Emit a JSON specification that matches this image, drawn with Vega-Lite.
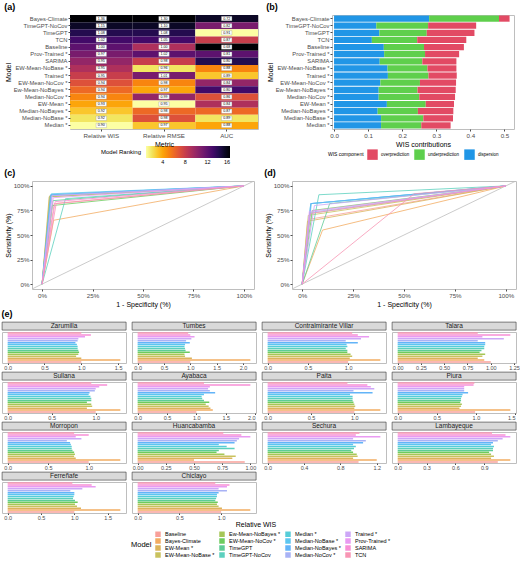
{
  "$schema": "https://vega.github.io/schema/vega-lite/v6.json",
  "padding": {"left": 1, "top": 2, "right": 2, "bottom": 0},
  "config": {
    "font": "Liberation Sans",
    "view": {"stroke": "#BEBEBE"},
    "axis": {"labelFontSize": 6.2, "labelColor": "#4D4D4D", "titleFontSize": 7, "titleFontWeight": "normal", "titleColor": "#000000", "tickColor": "#4D4D4D", "tickSize": 2, "domain": false, "grid": false, "labelPadding": 1, "titlePadding": 2},
    "title": {"fontSize": 9, "fontWeight": "bold", "anchor": "start", "frame": "bounds", "offset": 3},
    "legend": {"titleFontWeight": "normal", "titleColor": "#000000", "labelColor": "#000000", "layout": {"bottom": {"anchor": "middle"}}}
  },
  "datasets": {
    "heat": [
      {"model": "Bayes-Climate", "metric": "Relative WIS", "value": 1.36, "rank": 16},
      {"model": "Bayes-Climate", "metric": "Relative RMSE", "value": 1.30, "rank": 16},
      {"model": "Bayes-Climate", "metric": "AUC", "value": 0.72, "rank": 15},
      {"model": "TimeGPT-NoCov", "metric": "Relative WIS", "value": 1.15, "rank": 15},
      {"model": "TimeGPT-NoCov", "metric": "Relative RMSE", "value": 1.10, "rank": 15},
      {"model": "TimeGPT-NoCov", "metric": "AUC", "value": 0.82, "rank": 11},
      {"model": "TimeGPT", "metric": "Relative WIS", "value": 1.08, "rank": 14},
      {"model": "TimeGPT", "metric": "Relative RMSE", "value": 1.08, "rank": 14},
      {"model": "TimeGPT", "metric": "AUC", "value": 0.91, "rank": 1},
      {"model": "TCN", "metric": "Relative WIS", "value": 1.02, "rank": 13},
      {"model": "TCN", "metric": "Relative RMSE", "value": 1.05, "rank": 13},
      {"model": "TCN", "metric": "AUC", "value": 0.87, "rank": 8},
      {"model": "Baseline", "metric": "Relative WIS", "value": 1.00, "rank": 12},
      {"model": "Baseline", "metric": "Relative RMSE", "value": 1.00, "rank": 9},
      {"model": "Baseline", "metric": "AUC", "value": 0.68, "rank": 16},
      {"model": "Prov-Trained *", "metric": "Relative WIS", "value": 0.97, "rank": 11},
      {"model": "Prov-Trained *", "metric": "Relative RMSE", "value": 1.02, "rank": 12},
      {"model": "Prov-Trained *", "metric": "AUC", "value": 0.81, "rank": 12},
      {"model": "SARIMA", "metric": "Relative WIS", "value": 0.95, "rank": 10},
      {"model": "SARIMA", "metric": "Relative RMSE", "value": 0.98, "rank": 8},
      {"model": "SARIMA", "metric": "AUC", "value": 0.80, "rank": 14},
      {"model": "EW-Mean-NoBase *", "metric": "Relative WIS", "value": 0.95, "rank": 9},
      {"model": "EW-Mean-NoBase *", "metric": "Relative RMSE", "value": 0.96, "rank": 2},
      {"model": "EW-Mean-NoBase *", "metric": "AUC", "value": 0.88, "rank": 5},
      {"model": "Trained *", "metric": "Relative WIS", "value": 0.95, "rank": 8},
      {"model": "Trained *", "metric": "Relative RMSE", "value": 1.01, "rank": 11},
      {"model": "Trained *", "metric": "AUC", "value": 0.89, "rank": 3},
      {"model": "EW-Mean-NoCov *", "metric": "Relative WIS", "value": 0.94, "rank": 7},
      {"model": "EW-Mean-NoCov *", "metric": "Relative RMSE", "value": 0.98, "rank": 5},
      {"model": "EW-Mean-NoCov *", "metric": "AUC", "value": 0.84, "rank": 10},
      {"model": "Ew-Mean-NoBayes *", "metric": "Relative WIS", "value": 0.94, "rank": 6},
      {"model": "Ew-Mean-NoBayes *", "metric": "Relative RMSE", "value": 0.97, "rank": 4},
      {"model": "Ew-Mean-NoBayes *", "metric": "AUC", "value": 0.80, "rank": 13},
      {"model": "Median-NoCov *", "metric": "Relative WIS", "value": 0.94, "rank": 5},
      {"model": "Median-NoCov *", "metric": "Relative RMSE", "value": 0.99, "rank": 10},
      {"model": "Median-NoCov *", "metric": "AUC", "value": 0.86, "rank": 7},
      {"model": "EW-Mean *", "metric": "Relative WIS", "value": 0.93, "rank": 4},
      {"model": "EW-Mean *", "metric": "Relative RMSE", "value": 0.95, "rank": 1},
      {"model": "EW-Mean *", "metric": "AUC", "value": 0.84, "rank": 9},
      {"model": "Median-NoBayes *", "metric": "Relative WIS", "value": 0.92, "rank": 3},
      {"model": "Median-NoBayes *", "metric": "Relative RMSE", "value": 0.98, "rank": 6},
      {"model": "Median-NoBayes *", "metric": "AUC", "value": 0.87, "rank": 6},
      {"model": "Median-NoBase *", "metric": "Relative WIS", "value": 0.92, "rank": 2},
      {"model": "Median-NoBase *", "metric": "Relative RMSE", "value": 0.98, "rank": 7},
      {"model": "Median-NoBase *", "metric": "AUC", "value": 0.89, "rank": 2},
      {"model": "Median *", "metric": "Relative WIS", "value": 0.90, "rank": 1},
      {"model": "Median *", "metric": "Relative RMSE", "value": 0.97, "rank": 3},
      {"model": "Median *", "metric": "AUC", "value": 0.88, "rank": 4}
    ],
    "wisc": [
      {"model": "Bayes-Climate", "component": "dispersion", "value": 0.279},
      {"model": "Bayes-Climate", "component": "underprediction", "value": 0.205},
      {"model": "Bayes-Climate", "component": "overprediction", "value": 0.031},
      {"model": "TimeGPT-NoCov", "component": "dispersion", "value": 0.124},
      {"model": "TimeGPT-NoCov", "component": "underprediction", "value": 0.152},
      {"model": "TimeGPT-NoCov", "component": "overprediction", "value": 0.141},
      {"model": "TimeGPT", "component": "dispersion", "value": 0.133},
      {"model": "TimeGPT", "component": "underprediction", "value": 0.139},
      {"model": "TimeGPT", "component": "overprediction", "value": 0.140},
      {"model": "TCN", "component": "dispersion", "value": 0.111},
      {"model": "TCN", "component": "underprediction", "value": 0.133},
      {"model": "TCN", "component": "overprediction", "value": 0.144},
      {"model": "Baseline", "component": "dispersion", "value": 0.146},
      {"model": "Baseline", "component": "underprediction", "value": 0.118},
      {"model": "Baseline", "component": "overprediction", "value": 0.117},
      {"model": "Prov-Trained *", "component": "dispersion", "value": 0.147},
      {"model": "Prov-Trained *", "component": "underprediction", "value": 0.120},
      {"model": "Prov-Trained *", "component": "overprediction", "value": 0.100},
      {"model": "SARIMA", "component": "dispersion", "value": 0.134},
      {"model": "SARIMA", "component": "underprediction", "value": 0.125},
      {"model": "SARIMA", "component": "overprediction", "value": 0.100},
      {"model": "EW-Mean-NoBase *", "component": "dispersion", "value": 0.157},
      {"model": "EW-Mean-NoBase *", "component": "underprediction", "value": 0.117},
      {"model": "EW-Mean-NoBase *", "component": "overprediction", "value": 0.085},
      {"model": "Trained *", "component": "dispersion", "value": 0.158},
      {"model": "Trained *", "component": "underprediction", "value": 0.119},
      {"model": "Trained *", "component": "overprediction", "value": 0.083},
      {"model": "EW-Mean-NoCov *", "component": "dispersion", "value": 0.136},
      {"model": "EW-Mean-NoCov *", "component": "underprediction", "value": 0.116},
      {"model": "EW-Mean-NoCov *", "component": "overprediction", "value": 0.106},
      {"model": "Ew-Mean-NoBayes *", "component": "dispersion", "value": 0.131},
      {"model": "Ew-Mean-NoBayes *", "component": "underprediction", "value": 0.114},
      {"model": "Ew-Mean-NoBayes *", "component": "overprediction", "value": 0.112},
      {"model": "Median-NoCov *", "component": "dispersion", "value": 0.131},
      {"model": "Median-NoCov *", "component": "underprediction", "value": 0.119},
      {"model": "Median-NoCov *", "component": "overprediction", "value": 0.105},
      {"model": "EW-Mean *", "component": "dispersion", "value": 0.155},
      {"model": "EW-Mean *", "component": "underprediction", "value": 0.114},
      {"model": "EW-Mean *", "component": "overprediction", "value": 0.083},
      {"model": "Median-NoBayes *", "component": "dispersion", "value": 0.128},
      {"model": "Median-NoBayes *", "component": "underprediction", "value": 0.118},
      {"model": "Median-NoBayes *", "component": "overprediction", "value": 0.104},
      {"model": "Median-NoBase *", "component": "dispersion", "value": 0.138},
      {"model": "Median-NoBase *", "component": "underprediction", "value": 0.124},
      {"model": "Median-NoBase *", "component": "overprediction", "value": 0.087},
      {"model": "Median *", "component": "dispersion", "value": 0.138},
      {"model": "Median *", "component": "underprediction", "value": 0.118},
      {"model": "Median *", "component": "overprediction", "value": 0.086}
    ],
    "diag": [{"fpr": -5, "tpr": -5}, {"fpr": 105, "tpr": 105}],
    "roc": [
      {"p": "c", "model": "Baseline", "fpr": 0, "tpr": 0}, {"p": "c", "model": "Baseline", "fpr": 6, "tpr": 82}, {"p": "c", "model": "Baseline", "fpr": 100, "tpr": 100},
      {"p": "c", "model": "Bayes-Climate", "fpr": 0, "tpr": 0}, {"p": "c", "model": "Bayes-Climate", "fpr": 5.7, "tpr": 65}, {"p": "c", "model": "Bayes-Climate", "fpr": 100, "tpr": 100},
      {"p": "c", "model": "EW-Mean *", "fpr": 0, "tpr": 0}, {"p": "c", "model": "EW-Mean *", "fpr": 3.5, "tpr": 89}, {"p": "c", "model": "EW-Mean *", "fpr": 100, "tpr": 100},
      {"p": "c", "model": "EW-Mean-NoBase *", "fpr": 0, "tpr": 0}, {"p": "c", "model": "EW-Mean-NoBase *", "fpr": 3.8, "tpr": 90}, {"p": "c", "model": "EW-Mean-NoBase *", "fpr": 100, "tpr": 100},
      {"p": "c", "model": "Ew-Mean-NoBayes *", "fpr": 0, "tpr": 0}, {"p": "c", "model": "Ew-Mean-NoBayes *", "fpr": 4, "tpr": 89}, {"p": "c", "model": "Ew-Mean-NoBayes *", "fpr": 100, "tpr": 100},
      {"p": "c", "model": "EW-Mean-NoCov *", "fpr": 0, "tpr": 0}, {"p": "c", "model": "EW-Mean-NoCov *", "fpr": 5, "tpr": 80}, {"p": "c", "model": "EW-Mean-NoCov *", "fpr": 100, "tpr": 100},
      {"p": "c", "model": "TimeGPT", "fpr": 0, "tpr": 0}, {"p": "c", "model": "TimeGPT", "fpr": 5.4, "tpr": 85}, {"p": "c", "model": "TimeGPT", "fpr": 100, "tpr": 100},
      {"p": "c", "model": "TimeGPT-NoCov", "fpr": 0, "tpr": 0}, {"p": "c", "model": "TimeGPT-NoCov", "fpr": 11.6, "tpr": 87}, {"p": "c", "model": "TimeGPT-NoCov", "fpr": 100, "tpr": 100},
      {"p": "c", "model": "Median *", "fpr": 0, "tpr": 0}, {"p": "c", "model": "Median *", "fpr": 4.5, "tpr": 91}, {"p": "c", "model": "Median *", "fpr": 100, "tpr": 100},
      {"p": "c", "model": "Median-NoBase *", "fpr": 0, "tpr": 0}, {"p": "c", "model": "Median-NoBase *", "fpr": 4.6, "tpr": 92}, {"p": "c", "model": "Median-NoBase *", "fpr": 100, "tpr": 100},
      {"p": "c", "model": "Median-NoBayes *", "fpr": 0, "tpr": 0}, {"p": "c", "model": "Median-NoBayes *", "fpr": 4.2, "tpr": 91}, {"p": "c", "model": "Median-NoBayes *", "fpr": 100, "tpr": 100},
      {"p": "c", "model": "Median-NoCov *", "fpr": 0, "tpr": 0}, {"p": "c", "model": "Median-NoCov *", "fpr": 4.8, "tpr": 90}, {"p": "c", "model": "Median-NoCov *", "fpr": 100, "tpr": 100},
      {"p": "c", "model": "Trained *", "fpr": 0, "tpr": 0}, {"p": "c", "model": "Trained *", "fpr": 5, "tpr": 90}, {"p": "c", "model": "Trained *", "fpr": 100, "tpr": 100},
      {"p": "c", "model": "Prov-Trained *", "fpr": 0, "tpr": 0}, {"p": "c", "model": "Prov-Trained *", "fpr": 5.5, "tpr": 88}, {"p": "c", "model": "Prov-Trained *", "fpr": 100, "tpr": 100},
      {"p": "c", "model": "SARIMA", "fpr": 0, "tpr": 0}, {"p": "c", "model": "SARIMA", "fpr": 6.5, "tpr": 84}, {"p": "c", "model": "SARIMA", "fpr": 100, "tpr": 100},
      {"p": "c", "model": "TCN", "fpr": 0, "tpr": 0}, {"p": "c", "model": "TCN", "fpr": 7, "tpr": 82}, {"p": "c", "model": "TCN", "fpr": 100, "tpr": 100},
      {"p": "d", "model": "Baseline", "fpr": 0, "tpr": 0}, {"p": "d", "model": "Baseline", "fpr": 3.5, "tpr": 66}, {"p": "d", "model": "Baseline", "fpr": 100, "tpr": 100},
      {"p": "d", "model": "Bayes-Climate", "fpr": 0, "tpr": 0}, {"p": "d", "model": "Bayes-Climate", "fpr": 10, "tpr": 55}, {"p": "d", "model": "Bayes-Climate", "fpr": 100, "tpr": 100},
      {"p": "d", "model": "EW-Mean *", "fpr": 0, "tpr": 0}, {"p": "d", "model": "EW-Mean *", "fpr": 2.6, "tpr": 64}, {"p": "d", "model": "EW-Mean *", "fpr": 100, "tpr": 100},
      {"p": "d", "model": "EW-Mean-NoBase *", "fpr": 0, "tpr": 0}, {"p": "d", "model": "EW-Mean-NoBase *", "fpr": 3, "tpr": 70}, {"p": "d", "model": "EW-Mean-NoBase *", "fpr": 100, "tpr": 100},
      {"p": "d", "model": "Ew-Mean-NoBayes *", "fpr": 0, "tpr": 0}, {"p": "d", "model": "Ew-Mean-NoBayes *", "fpr": 4, "tpr": 72}, {"p": "d", "model": "Ew-Mean-NoBayes *", "fpr": 100, "tpr": 100},
      {"p": "d", "model": "EW-Mean-NoCov *", "fpr": 0, "tpr": 0}, {"p": "d", "model": "EW-Mean-NoCov *", "fpr": 5, "tpr": 75}, {"p": "d", "model": "EW-Mean-NoCov *", "fpr": 100, "tpr": 100},
      {"p": "d", "model": "TimeGPT", "fpr": 0, "tpr": 0}, {"p": "d", "model": "TimeGPT", "fpr": 13.5, "tpr": 82}, {"p": "d", "model": "TimeGPT", "fpr": 100, "tpr": 100},
      {"p": "d", "model": "TimeGPT-NoCov", "fpr": 0, "tpr": 0}, {"p": "d", "model": "TimeGPT-NoCov", "fpr": 8.2, "tpr": 91}, {"p": "d", "model": "TimeGPT-NoCov", "fpr": 100, "tpr": 100},
      {"p": "d", "model": "Median *", "fpr": 0, "tpr": 0}, {"p": "d", "model": "Median *", "fpr": 4.2, "tpr": 82}, {"p": "d", "model": "Median *", "fpr": 100, "tpr": 100},
      {"p": "d", "model": "Median-NoBase *", "fpr": 0, "tpr": 0}, {"p": "d", "model": "Median-NoBase *", "fpr": 4.5, "tpr": 82}, {"p": "d", "model": "Median-NoBase *", "fpr": 100, "tpr": 100},
      {"p": "d", "model": "Median-NoBayes *", "fpr": 0, "tpr": 0}, {"p": "d", "model": "Median-NoBayes *", "fpr": 4.2, "tpr": 82}, {"p": "d", "model": "Median-NoBayes *", "fpr": 100, "tpr": 100},
      {"p": "d", "model": "Median-NoCov *", "fpr": 0, "tpr": 0}, {"p": "d", "model": "Median-NoCov *", "fpr": 3.8, "tpr": 73}, {"p": "d", "model": "Median-NoCov *", "fpr": 100, "tpr": 100},
      {"p": "d", "model": "Trained *", "fpr": 0, "tpr": 0}, {"p": "d", "model": "Trained *", "fpr": 6, "tpr": 80}, {"p": "d", "model": "Trained *", "fpr": 100, "tpr": 100},
      {"p": "d", "model": "Prov-Trained *", "fpr": 0, "tpr": 0}, {"p": "d", "model": "Prov-Trained *", "fpr": 3.5, "tpr": 74}, {"p": "d", "model": "Prov-Trained *", "fpr": 100, "tpr": 100},
      {"p": "d", "model": "SARIMA", "fpr": 0, "tpr": 0}, {"p": "d", "model": "SARIMA", "fpr": 4, "tpr": 72}, {"p": "d", "model": "SARIMA", "fpr": 100, "tpr": 100},
      {"p": "d", "model": "TCN", "fpr": 0, "tpr": 0}, {"p": "d", "model": "TCN", "fpr": 55, "tpr": 92}, {"p": "d", "model": "TCN", "fpr": 100, "tpr": 100}
    ],
    "wis": [
      {"site": "Zarumilla", "model": "Baseline", "wis": 1.00}, {"site": "Zarumilla", "model": "Bayes-Climate", "wis": 1.53}, {"site": "Zarumilla", "model": "EW-Mean *", "wis": 1.00}, {"site": "Zarumilla", "model": "EW-Mean-NoBase *", "wis": 0.93}, {"site": "Zarumilla", "model": "Ew-Mean-NoBayes *", "wis": 0.96}, {"site": "Zarumilla", "model": "EW-Mean-NoCov *", "wis": 0.97}, {"site": "Zarumilla", "model": "TimeGPT", "wis": 0.96}, {"site": "Zarumilla", "model": "TimeGPT-NoCov", "wis": 0.95}, {"site": "Zarumilla", "model": "Median *", "wis": 0.95}, {"site": "Zarumilla", "model": "Median-NoBase *", "wis": 0.94}, {"site": "Zarumilla", "model": "Median-NoBayes *", "wis": 0.92}, {"site": "Zarumilla", "model": "Median-NoCov *", "wis": 0.95}, {"site": "Zarumilla", "model": "Trained *", "wis": 0.96}, {"site": "Zarumilla", "model": "Prov-Trained *", "wis": 1.05}, {"site": "Zarumilla", "model": "SARIMA", "wis": 1.13}, {"site": "Zarumilla", "model": "TCN", "wis": 1.00},
      {"site": "Tumbes", "model": "Baseline", "wis": 1.00}, {"site": "Tumbes", "model": "Bayes-Climate", "wis": 2.14}, {"site": "Tumbes", "model": "EW-Mean *", "wis": 1.03}, {"site": "Tumbes", "model": "EW-Mean-NoBase *", "wis": 0.90}, {"site": "Tumbes", "model": "Ew-Mean-NoBayes *", "wis": 0.89}, {"site": "Tumbes", "model": "EW-Mean-NoCov *", "wis": 0.99}, {"site": "Tumbes", "model": "TimeGPT", "wis": 0.91}, {"site": "Tumbes", "model": "TimeGPT-NoCov", "wis": 0.90}, {"site": "Tumbes", "model": "Median *", "wis": 0.89}, {"site": "Tumbes", "model": "Median-NoBase *", "wis": 0.90}, {"site": "Tumbes", "model": "Median-NoBayes *", "wis": 0.99}, {"site": "Tumbes", "model": "Median-NoCov *", "wis": 0.92}, {"site": "Tumbes", "model": "Trained *", "wis": 1.02}, {"site": "Tumbes", "model": "Prov-Trained *", "wis": 1.08}, {"site": "Tumbes", "model": "SARIMA", "wis": 1.00}, {"site": "Tumbes", "model": "TCN", "wis": 0.96},
      {"site": "Contralmirante Villar", "model": "Baseline", "wis": 1.00}, {"site": "Contralmirante Villar", "model": "Bayes-Climate", "wis": 1.40}, {"site": "Contralmirante Villar", "model": "EW-Mean *", "wis": 1.02}, {"site": "Contralmirante Villar", "model": "EW-Mean-NoBase *", "wis": 1.05}, {"site": "Contralmirante Villar", "model": "Ew-Mean-NoBayes *", "wis": 1.03}, {"site": "Contralmirante Villar", "model": "EW-Mean-NoCov *", "wis": 0.99}, {"site": "Contralmirante Villar", "model": "TimeGPT", "wis": 0.99}, {"site": "Contralmirante Villar", "model": "TimeGPT-NoCov", "wis": 0.97}, {"site": "Contralmirante Villar", "model": "Median *", "wis": 0.99}, {"site": "Contralmirante Villar", "model": "Median-NoBase *", "wis": 0.98}, {"site": "Contralmirante Villar", "model": "Median-NoBayes *", "wis": 1.12}, {"site": "Contralmirante Villar", "model": "Median-NoCov *", "wis": 0.97}, {"site": "Contralmirante Villar", "model": "Trained *", "wis": 1.16}, {"site": "Contralmirante Villar", "model": "Prov-Trained *", "wis": 1.26}, {"site": "Contralmirante Villar", "model": "SARIMA", "wis": 1.12}, {"site": "Contralmirante Villar", "model": "TCN", "wis": 1.05},
      {"site": "Talara", "model": "Baseline", "wis": 1.00}, {"site": "Talara", "model": "Bayes-Climate", "wis": 0.93}, {"site": "Talara", "model": "EW-Mean *", "wis": 0.86}, {"site": "Talara", "model": "EW-Mean-NoBase *", "wis": 0.91}, {"site": "Talara", "model": "Ew-Mean-NoBayes *", "wis": 0.94}, {"site": "Talara", "model": "EW-Mean-NoCov *", "wis": 0.88}, {"site": "Talara", "model": "TimeGPT", "wis": 0.90}, {"site": "Talara", "model": "TimeGPT-NoCov", "wis": 0.93}, {"site": "Talara", "model": "Median *", "wis": 0.93}, {"site": "Talara", "model": "Median-NoBase *", "wis": 0.94}, {"site": "Talara", "model": "Median-NoBayes *", "wis": 0.94}, {"site": "Talara", "model": "Median-NoCov *", "wis": 0.86}, {"site": "Talara", "model": "Trained *", "wis": 1.14}, {"site": "Talara", "model": "Prov-Trained *", "wis": 0.91}, {"site": "Talara", "model": "SARIMA", "wis": 1.21}, {"site": "Talara", "model": "TCN", "wis": 0.86},
      {"site": "Sullana", "model": "Baseline", "wis": 1.00}, {"site": "Sullana", "model": "Bayes-Climate", "wis": 1.28}, {"site": "Sullana", "model": "EW-Mean *", "wis": 0.90}, {"site": "Sullana", "model": "EW-Mean-NoBase *", "wis": 0.96}, {"site": "Sullana", "model": "Ew-Mean-NoBayes *", "wis": 0.95}, {"site": "Sullana", "model": "EW-Mean-NoCov *", "wis": 0.90}, {"site": "Sullana", "model": "TimeGPT", "wis": 0.95}, {"site": "Sullana", "model": "TimeGPT-NoCov", "wis": 0.95}, {"site": "Sullana", "model": "Median *", "wis": 0.94}, {"site": "Sullana", "model": "Median-NoBase *", "wis": 0.92}, {"site": "Sullana", "model": "Median-NoBayes *", "wis": 0.93}, {"site": "Sullana", "model": "Median-NoCov *", "wis": 0.99}, {"site": "Sullana", "model": "Trained *", "wis": 1.00}, {"site": "Sullana", "model": "Prov-Trained *", "wis": 1.04}, {"site": "Sullana", "model": "SARIMA", "wis": 1.13}, {"site": "Sullana", "model": "TCN", "wis": 0.95},
      {"site": "Ayabaca", "model": "Baseline", "wis": 1.00}, {"site": "Ayabaca", "model": "Bayes-Climate", "wis": 1.28}, {"site": "Ayabaca", "model": "EW-Mean *", "wis": 1.24}, {"site": "Ayabaca", "model": "EW-Mean-NoBase *", "wis": 1.21}, {"site": "Ayabaca", "model": "Ew-Mean-NoBayes *", "wis": 1.16}, {"site": "Ayabaca", "model": "EW-Mean-NoCov *", "wis": 1.22}, {"site": "Ayabaca", "model": "TimeGPT", "wis": 1.13}, {"site": "Ayabaca", "model": "TimeGPT-NoCov", "wis": 1.10}, {"site": "Ayabaca", "model": "Median *", "wis": 1.09}, {"site": "Ayabaca", "model": "Median-NoBase *", "wis": 1.13}, {"site": "Ayabaca", "model": "Median-NoBayes *", "wis": 1.32}, {"site": "Ayabaca", "model": "Median-NoCov *", "wis": 1.23}, {"site": "Ayabaca", "model": "Trained *", "wis": 1.20}, {"site": "Ayabaca", "model": "Prov-Trained *", "wis": 1.23}, {"site": "Ayabaca", "model": "SARIMA", "wis": 1.92}, {"site": "Ayabaca", "model": "TCN", "wis": 1.13},
      {"site": "Paita", "model": "Baseline", "wis": 1.00}, {"site": "Paita", "model": "Bayes-Climate", "wis": 1.30}, {"site": "Paita", "model": "EW-Mean *", "wis": 1.00}, {"site": "Paita", "model": "EW-Mean-NoBase *", "wis": 1.01}, {"site": "Paita", "model": "Ew-Mean-NoBayes *", "wis": 1.00}, {"site": "Paita", "model": "EW-Mean-NoCov *", "wis": 0.99}, {"site": "Paita", "model": "TimeGPT", "wis": 0.98}, {"site": "Paita", "model": "TimeGPT-NoCov", "wis": 0.98}, {"site": "Paita", "model": "Median *", "wis": 0.98}, {"site": "Paita", "model": "Median-NoBase *", "wis": 0.95}, {"site": "Paita", "model": "Median-NoBayes *", "wis": 1.21}, {"site": "Paita", "model": "Median-NoCov *", "wis": 0.99}, {"site": "Paita", "model": "Trained *", "wis": 1.23}, {"site": "Paita", "model": "Prov-Trained *", "wis": 1.19}, {"site": "Paita", "model": "SARIMA", "wis": 1.15}, {"site": "Paita", "model": "TCN", "wis": 0.92},
      {"site": "Piura", "model": "Baseline", "wis": 0.99}, {"site": "Piura", "model": "Bayes-Climate", "wis": 1.44}, {"site": "Piura", "model": "EW-Mean *", "wis": 0.79}, {"site": "Piura", "model": "EW-Mean-NoBase *", "wis": 0.81}, {"site": "Piura", "model": "Ew-Mean-NoBayes *", "wis": 0.82}, {"site": "Piura", "model": "EW-Mean-NoCov *", "wis": 0.80}, {"site": "Piura", "model": "TimeGPT", "wis": 0.81}, {"site": "Piura", "model": "TimeGPT-NoCov", "wis": 0.81}, {"site": "Piura", "model": "Median *", "wis": 0.82}, {"site": "Piura", "model": "Median-NoBase *", "wis": 0.83}, {"site": "Piura", "model": "Median-NoBayes *", "wis": 0.90}, {"site": "Piura", "model": "Median-NoCov *", "wis": 0.85}, {"site": "Piura", "model": "Trained *", "wis": 0.85}, {"site": "Piura", "model": "Prov-Trained *", "wis": 0.85}, {"site": "Piura", "model": "SARIMA", "wis": 0.97}, {"site": "Piura", "model": "TCN", "wis": 0.98},
      {"site": "Morropon", "model": "Baseline", "wis": 1.00}, {"site": "Morropon", "model": "Bayes-Climate", "wis": 1.39}, {"site": "Morropon", "model": "EW-Mean *", "wis": 0.84}, {"site": "Morropon", "model": "EW-Mean-NoBase *", "wis": 0.82}, {"site": "Morropon", "model": "Ew-Mean-NoBayes *", "wis": 0.83}, {"site": "Morropon", "model": "EW-Mean-NoCov *", "wis": 0.82}, {"site": "Morropon", "model": "TimeGPT", "wis": 0.80}, {"site": "Morropon", "model": "TimeGPT-NoCov", "wis": 0.79}, {"site": "Morropon", "model": "Median *", "wis": 0.79}, {"site": "Morropon", "model": "Median-NoBase *", "wis": 0.78}, {"site": "Morropon", "model": "Median-NoBayes *", "wis": 0.77}, {"site": "Morropon", "model": "Median-NoCov *", "wis": 0.73}, {"site": "Morropon", "model": "Trained *", "wis": 0.91}, {"site": "Morropon", "model": "Prov-Trained *", "wis": 0.84}, {"site": "Morropon", "model": "SARIMA", "wis": 1.00}, {"site": "Morropon", "model": "TCN", "wis": 0.82},
      {"site": "Huancabamba", "model": "Baseline", "wis": 0.95}, {"site": "Huancabamba", "model": "Bayes-Climate", "wis": 0.50}, {"site": "Huancabamba", "model": "EW-Mean *", "wis": 0.84}, {"site": "Huancabamba", "model": "EW-Mean-NoBase *", "wis": 0.87}, {"site": "Huancabamba", "model": "Ew-Mean-NoBayes *", "wis": 0.77}, {"site": "Huancabamba", "model": "EW-Mean-NoCov *", "wis": 0.70}, {"site": "Huancabamba", "model": "TimeGPT", "wis": 0.72}, {"site": "Huancabamba", "model": "TimeGPT-NoCov", "wis": 0.86}, {"site": "Huancabamba", "model": "Median *", "wis": 0.79}, {"site": "Huancabamba", "model": "Median-NoBase *", "wis": 0.72}, {"site": "Huancabamba", "model": "Median-NoBayes *", "wis": 0.86}, {"site": "Huancabamba", "model": "Median-NoCov *", "wis": 0.88}, {"site": "Huancabamba", "model": "Trained *", "wis": 0.90}, {"site": "Huancabamba", "model": "Prov-Trained *", "wis": 1.00}, {"site": "Huancabamba", "model": "SARIMA", "wis": 0.92}, {"site": "Huancabamba", "model": "TCN", "wis": 0.76},
      {"site": "Sechura", "model": "Baseline", "wis": 1.00}, {"site": "Sechura", "model": "Bayes-Climate", "wis": 1.20}, {"site": "Sechura", "model": "EW-Mean *", "wis": 0.94}, {"site": "Sechura", "model": "EW-Mean-NoBase *", "wis": 0.99}, {"site": "Sechura", "model": "Ew-Mean-NoBayes *", "wis": 0.98}, {"site": "Sechura", "model": "EW-Mean-NoCov *", "wis": 0.94}, {"site": "Sechura", "model": "TimeGPT", "wis": 0.92}, {"site": "Sechura", "model": "TimeGPT-NoCov", "wis": 0.95}, {"site": "Sechura", "model": "Median *", "wis": 0.97}, {"site": "Sechura", "model": "Median-NoBase *", "wis": 0.94}, {"site": "Sechura", "model": "Median-NoBayes *", "wis": 1.05}, {"site": "Sechura", "model": "Median-NoCov *", "wis": 1.08}, {"site": "Sechura", "model": "Trained *", "wis": 0.94}, {"site": "Sechura", "model": "Prov-Trained *", "wis": 1.24}, {"site": "Sechura", "model": "SARIMA", "wis": 0.97}, {"site": "Sechura", "model": "TCN", "wis": 1.01},
      {"site": "Lambayeque", "model": "Baseline", "wis": 1.04}, {"site": "Lambayeque", "model": "Bayes-Climate", "wis": 1.17}, {"site": "Lambayeque", "model": "EW-Mean *", "wis": 0.97}, {"site": "Lambayeque", "model": "EW-Mean-NoBase *", "wis": 1.00}, {"site": "Lambayeque", "model": "Ew-Mean-NoBayes *", "wis": 0.97}, {"site": "Lambayeque", "model": "EW-Mean-NoCov *", "wis": 0.95}, {"site": "Lambayeque", "model": "TimeGPT", "wis": 0.99}, {"site": "Lambayeque", "model": "TimeGPT-NoCov", "wis": 0.99}, {"site": "Lambayeque", "model": "Median *", "wis": 1.00}, {"site": "Lambayeque", "model": "Median-NoBase *", "wis": 0.97}, {"site": "Lambayeque", "model": "Median-NoBayes *", "wis": 0.99}, {"site": "Lambayeque", "model": "Median-NoCov *", "wis": 1.04}, {"site": "Lambayeque", "model": "Trained *", "wis": 1.09}, {"site": "Lambayeque", "model": "Prov-Trained *", "wis": 1.17}, {"site": "Lambayeque", "model": "SARIMA", "wis": 1.12}, {"site": "Lambayeque", "model": "TCN", "wis": 0.98},
      {"site": "Ferreñafe", "model": "Baseline", "wis": 1.00}, {"site": "Ferreñafe", "model": "Bayes-Climate", "wis": 1.69}, {"site": "Ferreñafe", "model": "EW-Mean *", "wis": 1.10}, {"site": "Ferreñafe", "model": "EW-Mean-NoBase *", "wis": 1.04}, {"site": "Ferreñafe", "model": "Ew-Mean-NoBayes *", "wis": 1.01}, {"site": "Ferreñafe", "model": "EW-Mean-NoCov *", "wis": 1.05}, {"site": "Ferreñafe", "model": "TimeGPT", "wis": 1.01}, {"site": "Ferreñafe", "model": "TimeGPT-NoCov", "wis": 0.98}, {"site": "Ferreñafe", "model": "Median *", "wis": 0.99}, {"site": "Ferreñafe", "model": "Median-NoBase *", "wis": 1.00}, {"site": "Ferreñafe", "model": "Median-NoBayes *", "wis": 1.00}, {"site": "Ferreñafe", "model": "Median-NoCov *", "wis": 0.94}, {"site": "Ferreñafe", "model": "Trained *", "wis": 1.12}, {"site": "Ferreñafe", "model": "Prov-Trained *", "wis": 1.32}, {"site": "Ferreñafe", "model": "SARIMA", "wis": 1.26}, {"site": "Ferreñafe", "model": "TCN", "wis": 0.97},
      {"site": "Chiclayo", "model": "Baseline", "wis": 1.00}, {"site": "Chiclayo", "model": "Bayes-Climate", "wis": 1.35}, {"site": "Chiclayo", "model": "EW-Mean *", "wis": 1.01}, {"site": "Chiclayo", "model": "EW-Mean-NoBase *", "wis": 0.97}, {"site": "Chiclayo", "model": "Ew-Mean-NoBayes *", "wis": 0.95}, {"site": "Chiclayo", "model": "EW-Mean-NoCov *", "wis": 0.96}, {"site": "Chiclayo", "model": "TimeGPT", "wis": 0.93}, {"site": "Chiclayo", "model": "TimeGPT-NoCov", "wis": 0.94}, {"site": "Chiclayo", "model": "Median *", "wis": 0.95}, {"site": "Chiclayo", "model": "Median-NoBase *", "wis": 0.95}, {"site": "Chiclayo", "model": "Median-NoBayes *", "wis": 0.97}, {"site": "Chiclayo", "model": "Median-NoCov *", "wis": 1.07}, {"site": "Chiclayo", "model": "Trained *", "wis": 0.97}, {"site": "Chiclayo", "model": "Prov-Trained *", "wis": 1.07}, {"site": "Chiclayo", "model": "SARIMA", "wis": 1.10}, {"site": "Chiclayo", "model": "TCN", "wis": 0.93}
    ]
  },
  "resolve": {"scale": {"color": "independent"}},
  "spacing": 1,
  "vconcat": [
    {
      "spacing": 0,
      "resolve": {"scale": {"color": "independent"}},
      "hconcat": [
        {"width": 1, "height": 1, "view": {"stroke": null}, "data": {"values": []}, "mark": "point"},
        {
          "spacing": 6,
          "resolve": {"scale": {"color": "independent"}},
          "hconcat": [
            {
              "title": "(a)",
              "width": 188,
              "height": 114,
              "data": {"name": "heat"},
              "encoding": {
                "x": {"field": "metric", "type": "nominal", "sort": ["Relative WIS", "Relative RMSE", "AUC"], "title": "Metric", "axis": {"labelAngle": 0}},
                "y": {"field": "model", "type": "nominal", "title": "Model", "axis": {"labelFontSize": 5.8}, "sort": ["Bayes-Climate", "TimeGPT-NoCov", "TimeGPT", "TCN", "Baseline", "Prov-Trained *", "SARIMA", "EW-Mean-NoBase *", "Trained *", "EW-Mean-NoCov *", "Ew-Mean-NoBayes *", "Median-NoCov *", "EW-Mean *", "Median-NoBayes *", "Median-NoBase *", "Median *"]}
              },
              "layer": [
                {
                  "mark": "rect",
                  "encoding": {
                    "color": {
                      "field": "rank", "type": "quantitative",
                      "scale": {"scheme": "inferno", "reverse": true, "domain": [1, 16]},
                      "legend": {"title": "Model Ranking", "orient": "none", "legendX": 31, "legendY": 131, "direction": "horizontal", "gradientLength": 84, "gradientThickness": 12, "titleOrient": "left", "values": [4, 8, 12, 16], "titleFontSize": 6, "labelFontSize": 5.5, "titlePadding": 4}
                    }
                  }
                },
                {"mark": {"type": "point", "shape": "M-1,-0.42H1V0.42H-1Z", "filled": true, "fill": "white", "stroke": "#8C8C8C", "strokeWidth": 0.3, "size": 110, "opacity": 1}},
                {"mark": {"type": "text", "fontSize": 3.6, "color": "#000000"}, "encoding": {"text": {"field": "value", "type": "quantitative", "format": ".2f"}}}
              ]
            },
            {
              "title": "(b)",
              "width": 182,
              "height": 114,
              "data": {"name": "wisc"},
              "transform": [{"calculate": "indexof(['dispersion','underprediction','overprediction'], datum.component)", "as": "k"}],
              "mark": {"type": "bar"},
              "encoding": {
                "y": {"field": "model", "type": "nominal", "title": "Model", "axis": {"labelFontSize": 5.8}, "scale": {"paddingInner": 0.12}, "sort": ["Bayes-Climate", "TimeGPT-NoCov", "TimeGPT", "TCN", "Baseline", "Prov-Trained *", "SARIMA", "EW-Mean-NoBase *", "Trained *", "EW-Mean-NoCov *", "Ew-Mean-NoBayes *", "Median-NoCov *", "EW-Mean *", "Median-NoBayes *", "Median-NoBase *", "Median *"]},
                "x": {"field": "value", "type": "quantitative", "title": "WIS contributions", "scale": {"domain": [-0.006, 0.528], "nice": false, "zero": false}, "axis": {"values": [0, 0.1, 0.2, 0.3, 0.4, 0.5], "format": ".1f"}},
                "color": {
                  "field": "component", "type": "nominal",
                  "scale": {"domain": ["overprediction", "underprediction", "dispersion"], "range": ["#E24A64", "#5FCF4C", "#2196E6"]},
                  "legend": {"title": "WIS component", "orient": "none", "legendX": -4, "legendY": 134, "direction": "horizontal", "titleOrient": "left", "symbolType": "square", "symbolSize": 110, "symbolStrokeWidth": 0, "labelFontSize": 4.5, "titleFontSize": 5, "columnPadding": 4, "labelOffset": 3, "titlePadding": 3}
                },
                "order": {"field": "k"}
              }
            }
          ]
        }
      ]
    },
    {
      "spacing": 0,
      "resolve": {"scale": {"color": "independent"}},
      "hconcat": [
        {"width": 1, "height": 1, "view": {"stroke": null}, "data": {"values": []}, "mark": "point"},
        {
          "spacing": 8,
          "resolve": {"scale": {"color": "independent"}},
          "hconcat": [
            {
              "title": "(c)",
              "width": 222,
              "height": 108,
              "encoding": {
                "x": {"field": "fpr", "type": "quantitative", "title": "1 - Specificity (%)", "scale": {"domain": [-5, 105], "nice": false}, "axis": {"values": [0, 25, 50, 75, 100], "labelExpr": "datum.value + '%'"}},
                "y": {"field": "tpr", "type": "quantitative", "title": "Sensitivity (%)", "scale": {"domain": [-5, 105], "nice": false}, "axis": {"values": [0, 25, 50, 75, 100], "labelExpr": "datum.value + '%'"}}
              },
              "layer": [
                {"data": {"name": "diag"}, "mark": {"type": "line", "color": "#BEBEBE", "strokeWidth": 0.8, "clip": true}, "encoding": {}},
                {
                  "data": {"name": "roc"},
                  "transform": [{"filter": "datum.p === 'c'"}],
                  "mark": {"type": "line", "strokeWidth": 0.8, "clip": true},
                  "encoding": {
                    "color": {"field": "model", "type": "nominal", "legend": null,
                      "scale": {"domain": ["Baseline", "Ew-Mean-NoBayes *", "Median *", "Trained *", "Bayes-Climate", "EW-Mean-NoCov *", "Median-NoBase *", "Prov-Trained *", "EW-Mean *", "TimeGPT", "Median-NoBayes *", "SARIMA", "EW-Mean-NoBase *", "TimeGPT-NoCov", "Median-NoCov *", "TCN"],
                        "range": ["#F8A09A", "#A6C757", "#56CDD8", "#CDA7F7", "#F2AC62", "#6DCC5E", "#5CC6F0", "#E99AF2", "#DCB45C", "#5ECC95", "#62B4F8", "#F78FD6", "#C9C25E", "#5CD0BE", "#A8B2F5", "#F895B4"]}}
                  }
                }
              ]
            },
            {
              "title": "(d)",
              "width": 224,
              "height": 108,
              "encoding": {
                "x": {"field": "fpr", "type": "quantitative", "title": "1 - Specificity (%)", "scale": {"domain": [-5, 105], "nice": false}, "axis": {"values": [0, 25, 50, 75, 100], "labelExpr": "datum.value + '%'"}},
                "y": {"field": "tpr", "type": "quantitative", "title": "Sensitivity (%)", "scale": {"domain": [-5, 105], "nice": false}, "axis": {"values": [0, 25, 50, 75, 100], "labelExpr": "datum.value + '%'"}}
              },
              "layer": [
                {"data": {"name": "diag"}, "mark": {"type": "line", "color": "#BEBEBE", "strokeWidth": 0.8, "clip": true}, "encoding": {}},
                {
                  "data": {"name": "roc"},
                  "transform": [{"filter": "datum.p === 'd'"}],
                  "mark": {"type": "line", "strokeWidth": 0.8, "clip": true},
                  "encoding": {
                    "color": {"field": "model", "type": "nominal", "legend": null,
                      "scale": {"domain": ["Baseline", "Ew-Mean-NoBayes *", "Median *", "Trained *", "Bayes-Climate", "EW-Mean-NoCov *", "Median-NoBase *", "Prov-Trained *", "EW-Mean *", "TimeGPT", "Median-NoBayes *", "SARIMA", "EW-Mean-NoBase *", "TimeGPT-NoCov", "Median-NoCov *", "TCN"],
                        "range": ["#F8A09A", "#A6C757", "#56CDD8", "#CDA7F7", "#F2AC62", "#6DCC5E", "#5CC6F0", "#E99AF2", "#DCB45C", "#5ECC95", "#62B4F8", "#F78FD6", "#C9C25E", "#5CD0BE", "#A8B2F5", "#F895B4"]}}
                  }
                }
              ]
            }
          ]
        }
      ]
    },
    {
      "title": "(e)",
      "resolve": {"scale": {"color": "shared"}},
      "spacing": 0,
      "vconcat": [
        {
          "columns": 4,
          "spacing": {"row": 0, "column": 4},
          "concat": [
            {"spacing": 0, "vconcat": [
              {"width": 124, "height": 8, "view": {"fill": "#D9D9D9", "stroke": "#333333", "strokeWidth": 0.6}, "data": {"values": [{"site": "Zarumilla"}]}, "mark": {"type": "text", "fontSize": 6.5, "color": "#1A1A1A"}, "encoding": {"text": {"field": "site"}}},
              {"width": 124, "height": 31, "data": {"name": "wis"}, "transform": [{"filter": "datum.site === 'Zarumilla'"}], "mark": "bar", "encoding": {
                "y": {"field": "model", "type": "nominal", "axis": null, "scale": {"paddingInner": 0.2}, "sort": ["TCN", "SARIMA", "Prov-Trained *", "Trained *", "Median-NoCov *", "Median-NoBayes *", "Median-NoBase *", "Median *", "TimeGPT-NoCov", "TimeGPT", "EW-Mean-NoCov *", "Ew-Mean-NoBayes *", "EW-Mean-NoBase *", "EW-Mean *", "Bayes-Climate", "Baseline"]},
                "x": {"field": "wis", "type": "quantitative", "title": null, "scale": {"domain": [-0.077, 1.607], "nice": false, "zero": false}, "axis": {"values": [0, 0.5, 1, 1.5], "format": ".1f", "labelFontSize": 5.5, "tickSize": 1.5, "labelPadding": 0.5}},
                "color": {"field": "model", "type": "nominal",
                  "scale": {"domain": ["Baseline", "Ew-Mean-NoBayes *", "Median *", "Trained *", "Bayes-Climate", "EW-Mean-NoCov *", "Median-NoBase *", "Prov-Trained *", "EW-Mean *", "TimeGPT", "Median-NoBayes *", "SARIMA", "EW-Mean-NoBase *", "TimeGPT-NoCov", "Median-NoCov *", "TCN"],
                    "range": ["#F8A09A", "#A6C757", "#56CDD8", "#CDA7F7", "#F2AC62", "#6DCC5E", "#5CC6F0", "#E99AF2", "#DCB45C", "#5ECC95", "#62B4F8", "#F78FD6", "#C9C25E", "#5CD0BE", "#A8B2F5", "#F895B4"]},
                  "legend": {"title": "Model", "orient": "bottom", "offset": 3, "columns": 4, "symbolType": "square", "symbolSize": 30, "symbolStrokeWidth": 0, "labelFontSize": 5.5, "titleFontSize": 7.5, "titleOrient": "left", "rowPadding": 0, "columnPadding": 4, "labelLimit": 0, "titlePadding": 3}}
              }}
            ]},
            {"spacing": 0, "vconcat": [
              {"width": 124, "height": 8, "view": {"fill": "#D9D9D9", "stroke": "#333333", "strokeWidth": 0.6}, "data": {"values": [{"site": "Tumbes"}]}, "mark": {"type": "text", "fontSize": 6.5, "color": "#1A1A1A"}, "encoding": {"text": {"field": "site"}}},
              {"width": 124, "height": 31, "data": {"name": "wis"}, "transform": [{"filter": "datum.site === 'Tumbes'"}], "mark": "bar", "encoding": {
                "y": {"field": "model", "type": "nominal", "axis": null, "scale": {"paddingInner": 0.2}, "sort": ["TCN", "SARIMA", "Prov-Trained *", "Trained *", "Median-NoCov *", "Median-NoBayes *", "Median-NoBase *", "Median *", "TimeGPT-NoCov", "TimeGPT", "EW-Mean-NoCov *", "Ew-Mean-NoBayes *", "EW-Mean-NoBase *", "EW-Mean *", "Bayes-Climate", "Baseline"]},
                "x": {"field": "wis", "type": "quantitative", "title": null, "scale": {"domain": [-0.107, 2.247], "nice": false, "zero": false}, "axis": {"values": [0, 0.5, 1, 1.5, 2], "format": ".1f", "labelFontSize": 5.5, "tickSize": 1.5, "labelPadding": 0.5}},
                "color": {"field": "model", "type": "nominal"}
              }}
            ]},
            {"spacing": 0, "vconcat": [
              {"width": 124, "height": 8, "view": {"fill": "#D9D9D9", "stroke": "#333333", "strokeWidth": 0.6}, "data": {"values": [{"site": "Contralmirante Villar"}]}, "mark": {"type": "text", "fontSize": 6.5, "color": "#1A1A1A"}, "encoding": {"text": {"field": "site"}}},
              {"width": 124, "height": 31, "data": {"name": "wis"}, "transform": [{"filter": "datum.site === 'Contralmirante Villar'"}], "mark": "bar", "encoding": {
                "y": {"field": "model", "type": "nominal", "axis": null, "scale": {"paddingInner": 0.2}, "sort": ["TCN", "SARIMA", "Prov-Trained *", "Trained *", "Median-NoCov *", "Median-NoBayes *", "Median-NoBase *", "Median *", "TimeGPT-NoCov", "TimeGPT", "EW-Mean-NoCov *", "Ew-Mean-NoBayes *", "EW-Mean-NoBase *", "EW-Mean *", "Bayes-Climate", "Baseline"]},
                "x": {"field": "wis", "type": "quantitative", "title": null, "scale": {"domain": [-0.07, 1.47], "nice": false, "zero": false}, "axis": {"values": [0, 0.5, 1], "format": ".1f", "labelFontSize": 5.5, "tickSize": 1.5, "labelPadding": 0.5}},
                "color": {"field": "model", "type": "nominal"}
              }}
            ]},
            {"spacing": 0, "vconcat": [
              {"width": 124, "height": 8, "view": {"fill": "#D9D9D9", "stroke": "#333333", "strokeWidth": 0.6}, "data": {"values": [{"site": "Talara"}]}, "mark": {"type": "text", "fontSize": 6.5, "color": "#1A1A1A"}, "encoding": {"text": {"field": "site"}}},
              {"width": 124, "height": 31, "data": {"name": "wis"}, "transform": [{"filter": "datum.site === 'Talara'"}], "mark": "bar", "encoding": {
                "y": {"field": "model", "type": "nominal", "axis": null, "scale": {"paddingInner": 0.2}, "sort": ["TCN", "SARIMA", "Prov-Trained *", "Trained *", "Median-NoCov *", "Median-NoBayes *", "Median-NoBase *", "Median *", "TimeGPT-NoCov", "TimeGPT", "EW-Mean-NoCov *", "Ew-Mean-NoBayes *", "EW-Mean-NoBase *", "EW-Mean *", "Bayes-Climate", "Baseline"]},
                "x": {"field": "wis", "type": "quantitative", "title": null, "scale": {"domain": [-0.061, 1.271], "nice": false, "zero": false}, "axis": {"values": [0, 0.25, 0.5, 0.75, 1, 1.25], "format": ".2f", "labelFontSize": 5.5, "tickSize": 1.5, "labelPadding": 0.5}},
                "color": {"field": "model", "type": "nominal"}
              }}
            ]},
            {"spacing": 0, "vconcat": [
              {"width": 124, "height": 8, "view": {"fill": "#D9D9D9", "stroke": "#333333", "strokeWidth": 0.6}, "data": {"values": [{"site": "Sullana"}]}, "mark": {"type": "text", "fontSize": 6.5, "color": "#1A1A1A"}, "encoding": {"text": {"field": "site"}}},
              {"width": 124, "height": 31, "data": {"name": "wis"}, "transform": [{"filter": "datum.site === 'Sullana'"}], "mark": "bar", "encoding": {
                "y": {"field": "model", "type": "nominal", "axis": null, "scale": {"paddingInner": 0.2}, "sort": ["TCN", "SARIMA", "Prov-Trained *", "Trained *", "Median-NoCov *", "Median-NoBayes *", "Median-NoBase *", "Median *", "TimeGPT-NoCov", "TimeGPT", "EW-Mean-NoCov *", "Ew-Mean-NoBayes *", "EW-Mean-NoBase *", "EW-Mean *", "Bayes-Climate", "Baseline"]},
                "x": {"field": "wis", "type": "quantitative", "title": null, "scale": {"domain": [-0.064, 1.344], "nice": false, "zero": false}, "axis": {"values": [0, 0.5, 1], "format": ".1f", "labelFontSize": 5.5, "tickSize": 1.5, "labelPadding": 0.5}},
                "color": {"field": "model", "type": "nominal"}
              }}
            ]},
            {"spacing": 0, "vconcat": [
              {"width": 124, "height": 8, "view": {"fill": "#D9D9D9", "stroke": "#333333", "strokeWidth": 0.6}, "data": {"values": [{"site": "Ayabaca"}]}, "mark": {"type": "text", "fontSize": 6.5, "color": "#1A1A1A"}, "encoding": {"text": {"field": "site"}}},
              {"width": 124, "height": 31, "data": {"name": "wis"}, "transform": [{"filter": "datum.site === 'Ayabaca'"}], "mark": "bar", "encoding": {
                "y": {"field": "model", "type": "nominal", "axis": null, "scale": {"paddingInner": 0.2}, "sort": ["TCN", "SARIMA", "Prov-Trained *", "Trained *", "Median-NoCov *", "Median-NoBayes *", "Median-NoBase *", "Median *", "TimeGPT-NoCov", "TimeGPT", "EW-Mean-NoCov *", "Ew-Mean-NoBayes *", "EW-Mean-NoBase *", "EW-Mean *", "Bayes-Climate", "Baseline"]},
                "x": {"field": "wis", "type": "quantitative", "title": null, "scale": {"domain": [-0.096, 2.016], "nice": false, "zero": false}, "axis": {"values": [0, 0.5, 1, 1.5, 2], "format": ".1f", "labelFontSize": 5.5, "tickSize": 1.5, "labelPadding": 0.5}},
                "color": {"field": "model", "type": "nominal"}
              }}
            ]},
            {"spacing": 0, "vconcat": [
              {"width": 124, "height": 8, "view": {"fill": "#D9D9D9", "stroke": "#333333", "strokeWidth": 0.6}, "data": {"values": [{"site": "Paita"}]}, "mark": {"type": "text", "fontSize": 6.5, "color": "#1A1A1A"}, "encoding": {"text": {"field": "site"}}},
              {"width": 124, "height": 31, "data": {"name": "wis"}, "transform": [{"filter": "datum.site === 'Paita'"}], "mark": "bar", "encoding": {
                "y": {"field": "model", "type": "nominal", "axis": null, "scale": {"paddingInner": 0.2}, "sort": ["TCN", "SARIMA", "Prov-Trained *", "Trained *", "Median-NoCov *", "Median-NoBayes *", "Median-NoBase *", "Median *", "TimeGPT-NoCov", "TimeGPT", "EW-Mean-NoCov *", "Ew-Mean-NoBayes *", "EW-Mean-NoBase *", "EW-Mean *", "Bayes-Climate", "Baseline"]},
                "x": {"field": "wis", "type": "quantitative", "title": null, "scale": {"domain": [-0.065, 1.365], "nice": false, "zero": false}, "axis": {"values": [0, 0.5, 1], "format": ".1f", "labelFontSize": 5.5, "tickSize": 1.5, "labelPadding": 0.5}},
                "color": {"field": "model", "type": "nominal"}
              }}
            ]},
            {"spacing": 0, "vconcat": [
              {"width": 124, "height": 8, "view": {"fill": "#D9D9D9", "stroke": "#333333", "strokeWidth": 0.6}, "data": {"values": [{"site": "Piura"}]}, "mark": {"type": "text", "fontSize": 6.5, "color": "#1A1A1A"}, "encoding": {"text": {"field": "site"}}},
              {"width": 124, "height": 31, "data": {"name": "wis"}, "transform": [{"filter": "datum.site === 'Piura'"}], "mark": "bar", "encoding": {
                "y": {"field": "model", "type": "nominal", "axis": null, "scale": {"paddingInner": 0.2}, "sort": ["TCN", "SARIMA", "Prov-Trained *", "Trained *", "Median-NoCov *", "Median-NoBayes *", "Median-NoBase *", "Median *", "TimeGPT-NoCov", "TimeGPT", "EW-Mean-NoCov *", "Ew-Mean-NoBayes *", "EW-Mean-NoBase *", "EW-Mean *", "Bayes-Climate", "Baseline"]},
                "x": {"field": "wis", "type": "quantitative", "title": null, "scale": {"domain": [-0.072, 1.512], "nice": false, "zero": false}, "axis": {"values": [0, 0.5, 1, 1.5], "format": ".1f", "labelFontSize": 5.5, "tickSize": 1.5, "labelPadding": 0.5}},
                "color": {"field": "model", "type": "nominal"}
              }}
            ]},
            {"spacing": 0, "vconcat": [
              {"width": 124, "height": 8, "view": {"fill": "#D9D9D9", "stroke": "#333333", "strokeWidth": 0.6}, "data": {"values": [{"site": "Morropon"}]}, "mark": {"type": "text", "fontSize": 6.5, "color": "#1A1A1A"}, "encoding": {"text": {"field": "site"}}},
              {"width": 124, "height": 31, "data": {"name": "wis"}, "transform": [{"filter": "datum.site === 'Morropon'"}], "mark": "bar", "encoding": {
                "y": {"field": "model", "type": "nominal", "axis": null, "scale": {"paddingInner": 0.2}, "sort": ["TCN", "SARIMA", "Prov-Trained *", "Trained *", "Median-NoCov *", "Median-NoBayes *", "Median-NoBase *", "Median *", "TimeGPT-NoCov", "TimeGPT", "EW-Mean-NoCov *", "Ew-Mean-NoBayes *", "EW-Mean-NoBase *", "EW-Mean *", "Bayes-Climate", "Baseline"]},
                "x": {"field": "wis", "type": "quantitative", "title": null, "scale": {"domain": [-0.07, 1.46], "nice": false, "zero": false}, "axis": {"values": [0, 0.5, 1], "format": ".1f", "labelFontSize": 5.5, "tickSize": 1.5, "labelPadding": 0.5}},
                "color": {"field": "model", "type": "nominal"}
              }}
            ]},
            {"spacing": 0, "vconcat": [
              {"width": 124, "height": 8, "view": {"fill": "#D9D9D9", "stroke": "#333333", "strokeWidth": 0.6}, "data": {"values": [{"site": "Huancabamba"}]}, "mark": {"type": "text", "fontSize": 6.5, "color": "#1A1A1A"}, "encoding": {"text": {"field": "site"}}},
              {"width": 124, "height": 31, "data": {"name": "wis"}, "transform": [{"filter": "datum.site === 'Huancabamba'"}], "mark": "bar", "encoding": {
                "y": {"field": "model", "type": "nominal", "axis": null, "scale": {"paddingInner": 0.2}, "sort": ["TCN", "SARIMA", "Prov-Trained *", "Trained *", "Median-NoCov *", "Median-NoBayes *", "Median-NoBase *", "Median *", "TimeGPT-NoCov", "TimeGPT", "EW-Mean-NoCov *", "Ew-Mean-NoBayes *", "EW-Mean-NoBase *", "EW-Mean *", "Bayes-Climate", "Baseline"]},
                "x": {"field": "wis", "type": "quantitative", "title": null, "scale": {"domain": [-0.05, 1.05], "nice": false, "zero": false}, "axis": {"values": [0, 0.25, 0.5, 0.75, 1], "format": ".2f", "labelFontSize": 5.5, "tickSize": 1.5, "labelPadding": 0.5}},
                "color": {"field": "model", "type": "nominal"}
              }}
            ]},
            {"spacing": 0, "vconcat": [
              {"width": 124, "height": 8, "view": {"fill": "#D9D9D9", "stroke": "#333333", "strokeWidth": 0.6}, "data": {"values": [{"site": "Sechura"}]}, "mark": {"type": "text", "fontSize": 6.5, "color": "#1A1A1A"}, "encoding": {"text": {"field": "site"}}},
              {"width": 124, "height": 31, "data": {"name": "wis"}, "transform": [{"filter": "datum.site === 'Sechura'"}], "mark": "bar", "encoding": {
                "y": {"field": "model", "type": "nominal", "axis": null, "scale": {"paddingInner": 0.2}, "sort": ["TCN", "SARIMA", "Prov-Trained *", "Trained *", "Median-NoCov *", "Median-NoBayes *", "Median-NoBase *", "Median *", "TimeGPT-NoCov", "TimeGPT", "EW-Mean-NoCov *", "Ew-Mean-NoBayes *", "EW-Mean-NoBase *", "EW-Mean *", "Bayes-Climate", "Baseline"]},
                "x": {"field": "wis", "type": "quantitative", "title": null, "scale": {"domain": [-0.062, 1.302], "nice": false, "zero": false}, "axis": {"values": [0, 0.4, 0.8, 1.2], "format": ".1f", "labelFontSize": 5.5, "tickSize": 1.5, "labelPadding": 0.5}},
                "color": {"field": "model", "type": "nominal"}
              }}
            ]},
            {"spacing": 0, "vconcat": [
              {"width": 124, "height": 8, "view": {"fill": "#D9D9D9", "stroke": "#333333", "strokeWidth": 0.6}, "data": {"values": [{"site": "Lambayeque"}]}, "mark": {"type": "text", "fontSize": 6.5, "color": "#1A1A1A"}, "encoding": {"text": {"field": "site"}}},
              {"width": 124, "height": 31, "data": {"name": "wis"}, "transform": [{"filter": "datum.site === 'Lambayeque'"}], "mark": "bar", "encoding": {
                "y": {"field": "model", "type": "nominal", "axis": null, "scale": {"paddingInner": 0.2}, "sort": ["TCN", "SARIMA", "Prov-Trained *", "Trained *", "Median-NoCov *", "Median-NoBayes *", "Median-NoBase *", "Median *", "TimeGPT-NoCov", "TimeGPT", "EW-Mean-NoCov *", "Ew-Mean-NoBayes *", "EW-Mean-NoBase *", "EW-Mean *", "Bayes-Climate", "Baseline"]},
                "x": {"field": "wis", "type": "quantitative", "title": null, "scale": {"domain": [-0.059, 1.229], "nice": false, "zero": false}, "axis": {"values": [0, 0.3, 0.6, 0.9], "format": ".1f", "labelFontSize": 5.5, "tickSize": 1.5, "labelPadding": 0.5}},
                "color": {"field": "model", "type": "nominal"}
              }}
            ]},
            {"spacing": 0, "vconcat": [
              {"width": 124, "height": 8, "view": {"fill": "#D9D9D9", "stroke": "#333333", "strokeWidth": 0.6}, "data": {"values": [{"site": "Ferreñafe"}]}, "mark": {"type": "text", "fontSize": 6.5, "color": "#1A1A1A"}, "encoding": {"text": {"field": "site"}}},
              {"width": 124, "height": 31, "data": {"name": "wis"}, "transform": [{"filter": "datum.site === 'Ferreñafe'"}], "mark": "bar", "encoding": {
                "y": {"field": "model", "type": "nominal", "axis": null, "scale": {"paddingInner": 0.2}, "sort": ["TCN", "SARIMA", "Prov-Trained *", "Trained *", "Median-NoCov *", "Median-NoBayes *", "Median-NoBase *", "Median *", "TimeGPT-NoCov", "TimeGPT", "EW-Mean-NoCov *", "Ew-Mean-NoBayes *", "EW-Mean-NoBase *", "EW-Mean *", "Bayes-Climate", "Baseline"]},
                "x": {"field": "wis", "type": "quantitative", "title": null, "scale": {"domain": [-0.085, 1.775], "nice": false, "zero": false}, "axis": {"values": [0, 0.5, 1, 1.5], "format": ".1f", "labelFontSize": 5.5, "tickSize": 1.5, "labelPadding": 0.5}},
                "color": {"field": "model", "type": "nominal"}
              }}
            ]},
            {"spacing": 0, "vconcat": [
              {"width": 124, "height": 8, "view": {"fill": "#D9D9D9", "stroke": "#333333", "strokeWidth": 0.6}, "data": {"values": [{"site": "Chiclayo"}]}, "mark": {"type": "text", "fontSize": 6.5, "color": "#1A1A1A"}, "encoding": {"text": {"field": "site"}}},
              {"width": 124, "height": 31, "data": {"name": "wis"}, "transform": [{"filter": "datum.site === 'Chiclayo'"}], "mark": "bar", "encoding": {
                "y": {"field": "model", "type": "nominal", "axis": null, "scale": {"paddingInner": 0.2}, "sort": ["TCN", "SARIMA", "Prov-Trained *", "Trained *", "Median-NoCov *", "Median-NoBayes *", "Median-NoBase *", "Median *", "TimeGPT-NoCov", "TimeGPT", "EW-Mean-NoCov *", "Ew-Mean-NoBayes *", "EW-Mean-NoBase *", "EW-Mean *", "Bayes-Climate", "Baseline"]},
                "x": {"field": "wis", "type": "quantitative", "title": null, "scale": {"domain": [-0.068, 1.418], "nice": false, "zero": false}, "axis": {"values": [0, 0.5, 1], "format": ".1f", "labelFontSize": 5.5, "tickSize": 1.5, "labelPadding": 0.5}},
                "color": {"field": "model", "type": "nominal"}
              }}
            ]}
          ]
        },
        {"width": 508, "height": 6, "view": {"stroke": null}, "data": {"values": [{"label": "Relative WIS"}]}, "mark": {"type": "text", "fontSize": 7, "color": "#000000"}, "encoding": {"text": {"field": "label"}}}
      ]
    }
  ]
}
